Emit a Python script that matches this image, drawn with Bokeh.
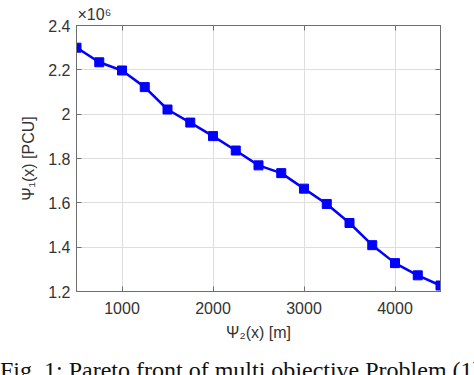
from bokeh.plotting import figure
from bokeh.layouts import column
from bokeh.models import (Range1d, FixedTicker, LinearAxis, Div,
                          CustomJSTickFormatter)
from bokeh.embed import file_html
from bokeh.resources import INLINE

# ---- data ----
psi2_m = [500, 750, 1000, 1250, 1500, 1750, 2000, 2250, 2500,
          2750, 3000, 3250, 3500, 3750, 4000, 4250, 4500]
psi1_pcu_e6 = [2.300, 2.234, 2.197, 2.122, 2.021, 1.962, 1.901, 1.836, 1.769,
               1.734, 1.664, 1.595, 1.509, 1.409, 1.328, 1.273, 1.227]
x_ticks = [1000, 2000, 3000, 4000]
y_ticks = [1.2, 1.4, 1.6, 1.8, 2.0, 2.2, 2.4]
x_limits = [500, 4500]
y_limits = [1.2, 2.4]
y_multiplier = "×10⁶"
x_label = "Ψ₂(x) [m]"
y_label = "Ψ₁(x) [PCU]"
caption = "Fig. 1: Pareto front of multi objective Problem (1)"

FONT = "Liberation Sans"
TXT = "#333333"
AX = "#6e6e6e"

p = figure(width=474, height=357, output_backend="svg", toolbar_location=None,
           x_range=Range1d(*x_limits), y_range=Range1d(*y_limits),
           min_border_left=76, min_border_right=34, min_border_top=23,
           min_border_bottom=66)
p.background_fill_color = "white"
p.border_fill_color = "white"
p.outline_line_color = AX
p.outline_line_width = 1

p.title.text = y_multiplier
p.title.align = "left"
p.title.text_font = FONT
p.title.text_font_size = "16px"
p.title.text_font_style = "normal"
p.title.text_color = TXT
p.title.standoff = 6
p.title.offset = 1

for ax in (p.xaxis[0], p.yaxis[0]):
    ax.major_label_text_font = FONT
    ax.major_label_text_font_size = "16px"
    ax.major_label_text_color = TXT
    ax.axis_label_text_font = FONT
    ax.axis_label_text_font_size = "16px"
    ax.axis_label_text_font_style = "normal"
    ax.axis_label_text_color = TXT
    ax.axis_line_color = AX
    ax.major_tick_line_color = AX
    ax.major_tick_in = 5
    ax.major_tick_out = 0
    ax.minor_tick_line_color = None

p.xaxis[0].ticker = FixedTicker(ticks=x_ticks)
p.yaxis[0].ticker = FixedTicker(ticks=y_ticks)
p.yaxis[0].formatter = CustomJSTickFormatter(
    code="return tick.toFixed(1).replace(/\\.0$/, '');")
p.xaxis[0].axis_label = x_label
p.yaxis[0].axis_label = y_label
p.xaxis[0].major_label_standoff = 10
p.yaxis[0].major_label_standoff = 6
p.xaxis[0].axis_label_standoff = 7
p.yaxis[0].axis_label_standoff = 8

# mirrored ticks on top/right (box on), without labels
blank = CustomJSTickFormatter(code="return '';")
top = LinearAxis(ticker=FixedTicker(ticks=x_ticks), formatter=blank,
                 major_tick_in=5, major_tick_out=0, minor_tick_line_color=None,
                 axis_line_color=AX, major_tick_line_color=AX,
                 major_label_standoff=0)
right = LinearAxis(ticker=FixedTicker(ticks=y_ticks), formatter=blank,
                   major_tick_in=5, major_tick_out=0, minor_tick_line_color=None,
                   axis_line_color=AX, major_tick_line_color=AX,
                   major_label_standoff=0)
p.add_layout(top, "above")
p.add_layout(right, "right")

p.xgrid.ticker = FixedTicker(ticks=x_ticks)
p.ygrid.ticker = FixedTicker(ticks=y_ticks)
p.grid.grid_line_color = "#dedede"
p.grid.grid_line_width = 1

p.line(psi2_m, psi1_pcu_e6, line_color="#0000ff", line_width=2.5)
p.scatter(psi2_m, psi1_pcu_e6, marker="square", size=9,
          fill_color="#0000ff", line_color="#0000ff")

cap = Div(text=caption, width=474, height=18, margin=0,
          styles={"overflow": "hidden", "white-space": "nowrap",
                  "font-family": "'Liberation Serif', serif",
                  "font-size": "24px", "line-height": "normal",
                  "color": "#111111", "margin": "0", "padding": "0"})

layout = column(p, cap, spacing=0)
open("out.html", "w").write(file_html(layout, INLINE))
